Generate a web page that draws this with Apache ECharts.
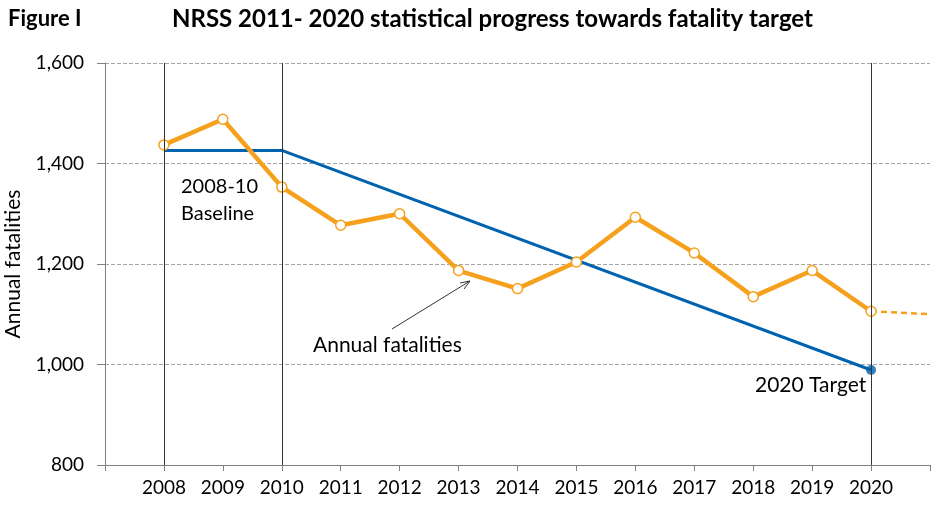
<!DOCTYPE html>
<html><head><meta charset="utf-8">
<script src="https://cdn.jsdelivr.net/npm/echarts@6/dist/echarts.min.js"></script>
<style>html,body{margin:0;padding:0;background:#fff}#c{width:941px;height:517px}</style>
</head><body><div id="c"></div>
<script>
const years = ['2007','2008','2009','2010','2011','2012','2013','2014','2015','2016','2017','2018','2019','2020','2021'];
const yearLabels = ['','2008','2009','2010','2011','2012','2013','2014','2015','2016','2017','2018','2019','2020',''];
const annualFatalities = [null,1437,1488,1353,1277,1300,1187,1151,1204,1293,1222,1135,1187,1106,null];
const projection = [null,null,null,null,null,null,null,null,null,null,null,null,null,1106,1100];
const targetPath = [null,1426,1426,1426,null,null,null,null,null,null,null,null,null,989,null];
const targetPoint = [null,null,null,null,null,null,null,null,null,null,null,null,null,989,null];
const markerYears = ['2008','2010','2020'];
const yTicks = [800,1000,1200,1400,1600];

const FONT = 'Lato';
const chart = echarts.init(document.getElementById('c'));
chart.setOption({
  animation:false,
  textStyle:{fontFamily:FONT},
  grid:{left:105,right:11,top:63,bottom:52,containLabel:false,outerBoundsMode:'none'},
  xAxis:{
    type:'category', data:years, boundaryGap:false,
    axisLine:{lineStyle:{color:'#808080',width:1}},
    axisTick:{show:true,length:6,lineStyle:{color:'#808080'}},
    axisLabel:{formatter:(v,i)=>yearLabels[i],color:'#000',fontSize:19,margin:13,interval:0},
    splitLine:{show:false}
  },
  yAxis:{
    type:'value', min:yTicks[0], max:yTicks[yTicks.length-1], interval:200,
    name:'Annual fatalities', nameLocation:'middle', nameGap:81,
    nameTextStyle:{fontSize:21,color:'#000'},
    axisLine:{show:true,lineStyle:{color:'#808080'}},
    axisTick:{show:true,length:8,lineStyle:{color:'#808080'}},
    axisLabel:{formatter:v=>v.toLocaleString('en-US'),color:'#000',fontSize:19,margin:21},
    splitLine:{lineStyle:{color:'#a6a6a6',type:[4,2],width:1}}
  },
  series:[
    {type:'line',data:targetPath,connectNulls:true,symbol:'none',
     lineStyle:{color:'#0063AF',width:3},z:2,
     markLine:{silent:true,symbol:'none',label:{show:false},
       lineStyle:{color:'#333',width:1,type:'solid'},
       data:markerYears.map(y=>({xAxis:y}))}},
    {type:'scatter',data:targetPoint,symbol:'circle',symbolSize:10,
     itemStyle:{color:'#0063AF'},z:3},
    {type:'line',data:projection,symbol:'none',
     lineStyle:{color:'#F5A11E',width:2.5,type:[6,4]},z:3},
    {type:'line',data:annualFatalities,symbol:'circle',symbolSize:10,showAllSymbol:true,
     lineStyle:{color:'#F5A11E',width:4.5},
     itemStyle:{color:'#fff',borderColor:'#F5A11E',borderWidth:1.5},z:4}
  ],
  graphic:[
    {type:'text',left:8,top:8,style:{text:'Figure I',font:'bold 22px '+FONT,fill:'#000'}},
    {type:'text',left:172,top:7,style:{text:'NRSS 2011- 2020 statistical progress towards fatality target',font:'bold 24px '+FONT,fill:'#000'}},
    {type:'text',left:181,top:173,style:{text:'2008-10\nBaseline',font:'20px '+FONT,fill:'#000',lineHeight:27}},
    {type:'text',left:313,top:335,style:{text:'Annual fatalities',font:'21px '+FONT,fill:'#000'}},
    {type:'text',left:755,top:375,style:{text:'2020 Target',font:'21px '+FONT,fill:'#000'}},
    {type:'line',shape:{x1:392,y1:329,x2:470,y2:281},style:{stroke:'#333',lineWidth:1}},
    {type:'polyline',shape:{points:[[460,283],[470,281],[464,289]]},style:{stroke:'#333',lineWidth:1,fill:null}}
  ]
});
</script></body></html>
